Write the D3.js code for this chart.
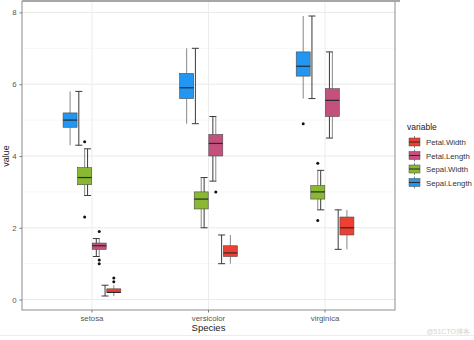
<!DOCTYPE html>
<html>
<head>
<meta charset="utf-8">
<script src="https://cdn.jsdelivr.net/npm/d3@7"></script>
<style>
  body { margin: 0; background: #fff; }
  svg { font-family: "Liberation Sans", Arial, sans-serif; }
</style>
</head>
<body>
<div id="chart"></div>
<script>
// iris measurements by species, boxplot summaries
var species = ["setosa", "versicolor", "virginica"];
var variables = ["Sepal.Length", "Sepal.Width", "Petal.Length", "Petal.Width"];
var legendOrder = ["Petal.Width", "Petal.Length", "Sepal.Width", "Sepal.Length"];
var colors = ["#2196F3", "#8AB833", "#C4517D", "#EE3F33"];
var yTicks = [0, 2, 4, 6, 8];
var yMinor = [1, 3, 5, 7];

// [lower whisker, q1, median, q3, upper whisker] per species
var sepalLength = [[4.3, 4.8, 5.0, 5.2, 5.8], [4.9, 5.6, 5.9, 6.3, 7.0], [5.6, 6.225, 6.5, 6.9, 7.9]];
var sepalWidth = [[2.9, 3.2, 3.4, 3.675, 4.2], [2.0, 2.525, 2.8, 3.0, 3.4], [2.5, 2.8, 3.0, 3.175, 3.6]];
var petalLength = [[1.2, 1.4, 1.5, 1.575, 1.7], [3.3, 4.0, 4.35, 4.6, 5.1], [4.5, 5.1, 5.55, 5.875, 6.9]];
var petalWidth = [[0.1, 0.2, 0.2, 0.3, 0.4], [1.0, 1.2, 1.3, 1.5, 1.8], [1.4, 1.8, 2.0, 2.3, 2.5]];

var sepalLengthOut = [[], [], [4.9]];
var sepalWidthOut = [[4.4, 2.3], [], [3.8, 2.2]];
var petalLengthOut = [[1.9, 1.1, 1.0], [3.0], []];
var petalWidthOut = [[0.5, 0.6], [], []];

var stats = [sepalLength, sepalWidth, petalLength, petalWidth];
var outs = [sepalLengthOut, sepalWidthOut, petalLengthOut, petalWidthOut];

var width = 474, height = 340;
var panel = { left: 22, right: 395, top: 2, bottom: 310 };

var rows = [];
variables.forEach(function(v, vi) {
  species.forEach(function(s, si) {
    var st = stats[vi][si];
    rows.push({
      variable: v, species: s, color: colors[vi],
      lo: st[0], q1: st[1], med: st[2], q3: st[3], hi: st[4],
      out: outs[vi][si]
    });
  });
});

var svg = d3.select("#chart").append("svg")
  .attr("width", width)
  .attr("height", height);

var x = d3.scaleBand()
  .domain(species)
  .range([panel.left, panel.right])
  .paddingInner(0)
  .paddingOuter(0.1);
var step = x.step();
var center = function(s) { return x(s) + x.bandwidth() / 2; };

// boxes and errorbars are dodged with different widths
var xBox = d3.scaleBand().domain(variables).range([-0.25 * step, 0.25 * step]);
var xErr = d3.scaleBand().domain(variables).range([-0.15 * step, 0.15 * step]);

var y = d3.scaleLinear()
  .domain([-0.29, 8.29])
  .range([panel.bottom, panel.top]);

// grid
var grid = svg.append("g").attr("class", "grid");
grid.selectAll(".minor").data(yMinor).enter().append("line")
  .attr("x1", panel.left).attr("x2", panel.right)
  .attr("y1", function(d) { return y(d); }).attr("y2", function(d) { return y(d); })
  .attr("stroke", "#f0f0f0").attr("stroke-width", 0.6);
grid.selectAll(".major").data(yTicks).enter().append("line")
  .attr("x1", panel.left).attr("x2", panel.right)
  .attr("y1", function(d) { return y(d); }).attr("y2", function(d) { return y(d); })
  .attr("stroke", "#e9e9e9").attr("stroke-width", 1);
grid.selectAll(".vert").data(species).enter().append("line")
  .attr("x1", center).attr("x2", center)
  .attr("y1", panel.top).attr("y2", panel.bottom)
  .attr("stroke", "#ececec").attr("stroke-width", 1);

// errorbars
var err = svg.append("g").attr("class", "errorbars");
rows.forEach(function(d) {
  var cx = center(d.species) + xErr(d.variable) + xErr.bandwidth() / 2;
  var hw = xErr.bandwidth() * 0.4;
  var g = err.append("g").attr("stroke", "#3a3a3a").attr("stroke-width", 1);
  g.append("line").attr("x1", cx).attr("x2", cx).attr("y1", y(d.lo)).attr("y2", y(d.hi));
  g.append("line").attr("x1", cx - hw).attr("x2", cx + hw).attr("y1", y(d.lo)).attr("y2", y(d.lo));
  g.append("line").attr("x1", cx - hw).attr("x2", cx + hw).attr("y1", y(d.hi)).attr("y2", y(d.hi));
});

// boxplots
var boxes = svg.append("g").attr("class", "boxes");
rows.forEach(function(d) {
  var x0 = center(d.species) + xBox(d.variable);
  var bw = xBox.bandwidth() * 0.96;
  var cx = x0 + xBox.bandwidth() / 2;
  var g = boxes.append("g");
  g.append("line").attr("x1", cx).attr("x2", cx).attr("y1", y(d.hi)).attr("y2", y(d.q3))
    .attr("stroke", "#6a6a6a").attr("stroke-width", 0.8);
  g.append("line").attr("x1", cx).attr("x2", cx).attr("y1", y(d.q1)).attr("y2", y(d.lo))
    .attr("stroke", "#6a6a6a").attr("stroke-width", 0.8);
  g.append("rect")
    .attr("x", cx - bw / 2).attr("width", bw)
    .attr("y", y(d.q3)).attr("height", y(d.q1) - y(d.q3))
    .attr("fill", d.color).attr("stroke", "#4a4a4a").attr("stroke-width", 0.6);
  g.append("line").attr("x1", cx - bw / 2).attr("x2", cx + bw / 2)
    .attr("y1", y(d.med)).attr("y2", y(d.med))
    .attr("stroke", "#2a2a2a").attr("stroke-width", 1.2);
  g.selectAll("circle").data(d.out).enter().append("circle")
    .attr("cx", cx).attr("cy", function(v) { return y(v); })
    .attr("r", 1.5).attr("fill", "#111");
});

// panel border
svg.append("rect")
  .attr("x", panel.left).attr("y", panel.top - 0.5)
  .attr("width", panel.right - panel.left).attr("height", panel.bottom - panel.top + 0.5)
  .attr("fill", "none").attr("stroke", "#8c8c8c").attr("stroke-width", 1);
svg.append("line")
  .attr("x1", panel.left).attr("x2", panel.right + 5)
  .attr("y1", 1).attr("y2", 1)
  .attr("stroke", "#a6a6a6").attr("stroke-width", 2);

// axes
var yAxis = svg.append("g")
  .attr("transform", "translate(" + panel.left + ",0)")
  .call(d3.axisLeft(y).tickValues(yTicks).tickSize(2.5).tickPadding(3));
var xAxis = svg.append("g")
  .attr("transform", "translate(0," + panel.bottom + ")")
  .call(d3.axisBottom(x).tickSize(2.5).tickPadding(3));
[yAxis, xAxis].forEach(function(a) {
  a.attr("color", "#555");
  a.select(".domain").remove();
  a.selectAll(".tick line").attr("stroke", "#7a7a7a");
  a.selectAll(".tick text").attr("fill", "#555").style("font-size", "7.8px");
});

svg.append("text")
  .attr("transform", "translate(9," + ((panel.top + panel.bottom) / 2) + ") rotate(-90)")
  .attr("text-anchor", "middle")
  .attr("fill", "#222")
  .style("font-size", "9px")
  .text("value");

svg.append("text")
  .attr("x", (panel.left + panel.right) / 2)
  .attr("y", 331)
  .attr("text-anchor", "middle")
  .attr("fill", "#222")
  .style("font-size", "9.5px")
  .text("Species");

// legend
var legend = svg.append("g").attr("transform", "translate(407,0)");
legend.append("text")
  .attr("x", 0).attr("y", 130)
  .attr("fill", "#222")
  .style("font-size", "8.5px")
  .text("variable");
legendOrder.forEach(function(v, i) {
  var col = colors[variables.indexOf(v)];
  var cy = 142 + i * 13.5;
  var g = legend.append("g").attr("transform", "translate(0," + cy + ")");
  g.append("line").attr("x1", 7.5).attr("x2", 7.5).attr("y1", -6).attr("y2", 6)
    .attr("stroke", "#6a6a6a").attr("stroke-width", 0.8);
  g.append("rect").attr("x", 2).attr("y", -4).attr("width", 11).attr("height", 8)
    .attr("fill", col).attr("stroke", "#4a4a4a").attr("stroke-width", 0.5);
  g.append("line").attr("x1", 2).attr("x2", 13).attr("y1", 0).attr("y2", 0)
    .attr("stroke", "#2a2a2a").attr("stroke-width", 1);
  g.append("text").attr("x", 19).attr("y", 3)
    .attr("fill", "#333")
    .style("font-size", "7.8px")
    .text(v);
});

// watermark
svg.append("line")
  .attr("x1", 0).attr("x2", width).attr("y1", 335.5).attr("y2", 335.5)
  .attr("stroke", "#ececec").attr("stroke-width", 1);
svg.append("text")
  .attr("x", 470).attr("y", 334)
  .attr("text-anchor", "end")
  .attr("fill", "#d4d4d4")
  .style("font-size", "7px")
  .text("@51CTO博客");
</script>
</body>
</html>
